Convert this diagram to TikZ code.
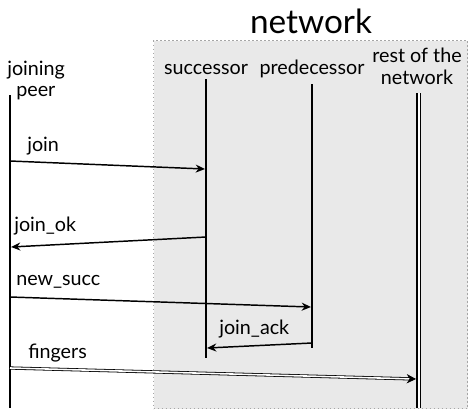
\documentclass[tikz,border=0pt]{standalone}
\usepackage{fontspec}
\setmainfont{Lato}
\usetikzlibrary{arrows.meta}
\begin{document}
\begin{tikzpicture}[x=0.75pt,y=-0.75pt,
  lbl/.style={font=\fontsize{14.8}{16}\selectfont, inner sep=0pt},
  life/.style={line width=1.4pt},
  msg/.style={line width=1.1pt,-{Stealth[length=7pt,width=6pt]}},
  dmsg/.style={double, double distance=1.2pt, line width=0.6pt,-{Stealth[length=7pt,width=7pt]}}]
\useasboundingbox (0,0) rectangle (474,414);
\node[draw=gray!70, dotted, line width=1pt, fill=gray!17, minimum width=314*0.75pt, minimum height=368*0.75pt, anchor=north west, inner sep=0pt] (net) at (153,40) {};
\node[font=\fontsize{25}{27}\selectfont, inner sep=0pt] (title) at (311,21) {network};
% headers
\node[lbl, anchor=west] (jp1) at (7,70) {joining};
\node[lbl, anchor=west] (jp2) at (16,93) {peer};
\node[lbl] (succ) at (206,69) {successor};
\node[lbl] (pred) at (312,69) {predecessor};
\node[lbl] (rest1) at (417,55) {rest of the};
\node[lbl] (rest2) at (417,77) {network};
% lifelines
\coordinate (jpT) at (10,95); \coordinate (jpB) at (10,408);
\coordinate (suT) at (206,79); \coordinate (suB) at (206,358);
\coordinate (prT) at (312,84); \coordinate (prB) at (312,348);
\coordinate (reT) at (418.5,93); \coordinate (reB) at (418.5,408);
\draw[life] (jpT) -- (jpB);
\draw[life] (suT) -- (suB);
\draw[life] (prT) -- (prB);
\draw[line width=1pt, double, double distance=1.5pt] (reT) -- (reB);
% messages
\coordinate (m1a) at (10,161); \coordinate (m1b) at (205,169);
\coordinate (m2a) at (206,237); \coordinate (m2b) at (11,247);
\coordinate (m3a) at (10,297); \coordinate (m3b) at (311,307);
\coordinate (m4a) at (312,343); \coordinate (m4b) at (207,348);
\coordinate (m5a) at (10,368); \coordinate (m5b) at (416,379);
\draw[msg] (m1a) -- (m1b);
\draw[msg] (m2a) -- (m2b);
\draw[msg] (m3a) -- (m3b);
\draw[msg] (m4a) -- (m4b);
\draw[dmsg] (m5a) -- (m5b);
\node[lbl, anchor=west] (l1) at (27,146) {join};
\node[lbl, anchor=west] (l2) at (14,226) {join\_ok};
\node[lbl, anchor=west] (l3) at (16,282) {new\_succ};
\node[lbl, anchor=west] (l4) at (219,329) {join\_ack};
\node[lbl, anchor=west] (l5) at (28,353) {fingers};
\end{tikzpicture}
\end{document}
